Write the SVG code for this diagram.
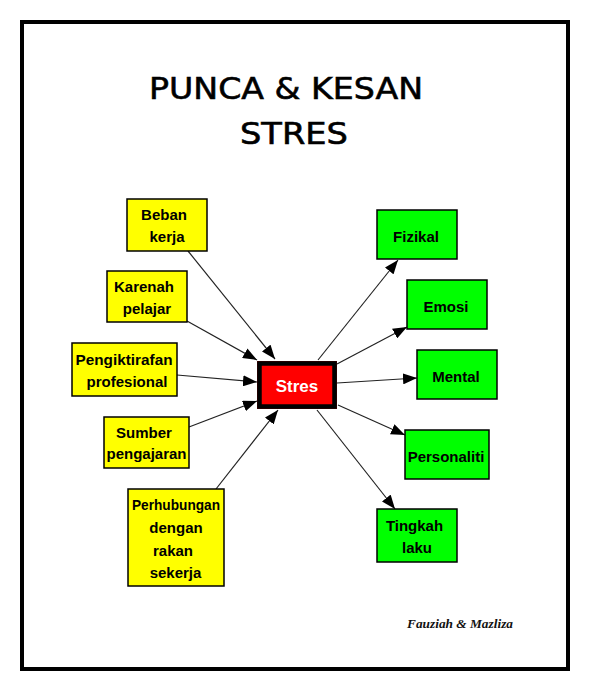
<svg xmlns="http://www.w3.org/2000/svg" width="590" height="692" viewBox="0 0 590 692">
<defs>
<marker id="ah" markerUnits="userSpaceOnUse" markerWidth="15" markerHeight="11" refX="14" refY="5.5" orient="auto">
<path d="M0,0 L14,5.5 L0,11 Z" fill="#000"/>
</marker>
<style>
.box{stroke:#000;stroke-width:1.5}
.y{fill:#ffff00}
.g{fill:#00ff00}
.t{font-family:"Comic Sans MS","Liberation Sans","DejaVu Sans",sans-serif;font-size:15px;font-weight:bold;fill:#000;text-anchor:middle}
.c line{stroke:#222;stroke-width:1.2;marker-end:url(#ah)}
.title{font-family:"DejaVu Sans","Liberation Sans",sans-serif;font-size:30px;fill:#000;text-anchor:middle;stroke:#000;stroke-width:0.6}
</style>
</defs>
<rect x="0" y="0" width="590" height="692" fill="#fff"/>
<rect x="22" y="22" width="546" height="647" fill="#fff" stroke="#000" stroke-width="4"/>
<g id="title">
<text class="title" x="286" y="99" textLength="274" lengthAdjust="spacingAndGlyphs">PUNCA &amp; KESAN</text>
<text class="title" x="294" y="144" textLength="108" lengthAdjust="spacingAndGlyphs">STRES</text>
</g>
<g class="c" id="connectors">
<line x1="188" y1="251" x2="275" y2="359"/>
<line x1="187" y1="321" x2="257" y2="360"/>
<line x1="177" y1="375" x2="257" y2="382"/>
<line x1="189" y1="427" x2="257" y2="401"/>
<line x1="216" y1="489" x2="278" y2="410"/>
<line x1="318" y1="360" x2="398" y2="260"/>
<line x1="337" y1="364" x2="407" y2="327"/>
<line x1="337" y1="383" x2="417" y2="378"/>
<line x1="338" y1="405" x2="405" y2="435"/>
<line x1="317" y1="410" x2="395" y2="509"/>
</g>
<g id="n-beban"><rect class="box y" x="127" y="199" width="80" height="52"/><text class="t" x="164" y="220">Beban</text><text class="t" x="167" y="242">kerja</text></g>
<g id="n-karenah"><rect class="box y" x="107" y="271" width="80" height="51"/><text class="t" x="144" y="292">Karenah</text><text class="t" x="147" y="314">pelajar</text></g>
<g id="n-pengiktirafan"><rect class="box y" x="72" y="343" width="105" height="53"/><text class="t" x="124" y="365" textLength="97" lengthAdjust="spacingAndGlyphs">Pengiktirafan</text><text class="t" x="127" y="387">profesional</text></g>
<g id="n-sumber"><rect class="box y" x="104" y="417" width="85" height="51"/><text class="t" x="144" y="438">Sumber</text><text class="t" x="146.5" y="459">pengajaran</text></g>
<g id="n-perhubungan"><rect class="box y" x="128" y="489" width="96" height="97"/><text class="t" x="176" y="510" textLength="88" lengthAdjust="spacingAndGlyphs">Perhubungan</text><text class="t" x="176" y="533">dengan</text><text class="t" x="173" y="556">rakan</text><text class="t" x="175.5" y="578">sekerja</text></g>
<g id="n-stres"><rect x="257" y="361" width="80" height="48" fill="#800000"/><rect x="259.5" y="363.5" width="75" height="43" fill="#ff0000" stroke="#000" stroke-width="4.5"/><text class="t" x="297" y="392" style="fill:#fff;font-size:17px">Stres</text></g>
<g id="n-fizikal"><rect class="box g" x="377" y="210" width="80" height="49"/><text class="t" x="416" y="242">Fizikal</text></g>
<g id="n-emosi"><rect class="box g" x="407" y="280" width="80" height="49"/><text class="t" x="446" y="312">Emosi</text></g>
<g id="n-mental"><rect class="box g" x="417" y="350" width="80" height="49"/><text class="t" x="456" y="382">Mental</text></g>
<g id="n-personaliti"><rect class="box g" x="405" y="430" width="84" height="49"/><text class="t" x="446" y="462">Personaliti</text></g>
<g id="n-tingkah"><rect class="box g" x="377" y="509" width="80" height="53"/><text class="t" x="414.5" y="531">Tingkah</text><text class="t" x="417" y="553">laku</text></g>
<text x="460" y="628" text-anchor="middle" font-family="Liberation Serif, serif" font-style="italic" font-weight="bold" font-size="13" fill="#111" textLength="106" lengthAdjust="spacingAndGlyphs">Fauziah &amp; Mazliza</text>
</svg>
